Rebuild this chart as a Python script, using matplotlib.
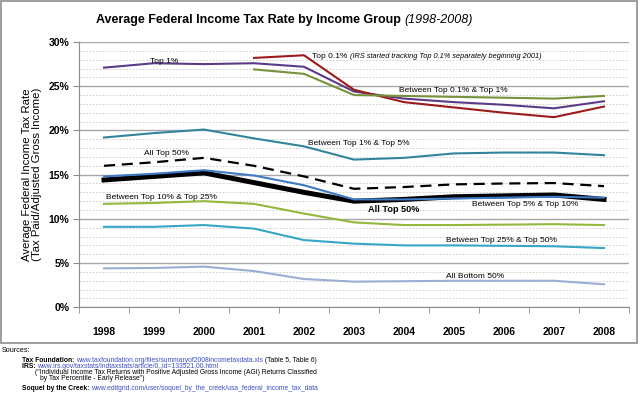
import numpy as np
import matplotlib.pyplot as plt
from matplotlib.patches import Rectangle
from matplotlib.ticker import MultipleLocator, FuncFormatter

plt.rcParams['font.family'] = ['Liberation Sans', 'DejaVu Sans']

years = [1998, 1999, 2000, 2001, 2002, 2003, 2004, 2005, 2006, 2007, 2008]

# average tax rate (%) per income group
top1 = [27.1, 27.6, 27.5, 27.6, 27.2, 24.4, 23.6, 23.2, 22.9, 22.5, 23.3]
top01 = [28.2, 28.5, 24.6, 23.2, 22.6, 22.0, 21.5, 22.7]  # from 2001
top01_1 = [26.9, 26.4, 24.0, 23.9, 23.8, 23.7, 23.6, 23.9]  # from 2001
top1_5 = [19.2, 19.7, 20.1, 19.1, 18.2, 16.7, 16.9, 17.4, 17.5, 17.5, 17.2]
top50_dash = [16.0, 16.4, 16.9, 16.0, 14.8, 13.4, 13.6, 13.9, 14.0, 14.05, 13.7]
top5_10 = [14.8, 15.1, 15.5, 14.9, 13.8, 12.2, 12.2, 12.3, 12.4, 12.5, 12.4]
top50_all = [14.4, 14.8, 15.2, 14.1, 13.0, 12.0, 12.2, 12.5, 12.6, 12.7, 12.2]
top10_25 = [11.7, 11.8, 12.0, 11.7, 10.6, 9.6, 9.3, 9.3, 9.35, 9.4, 9.3]
top25_50 = [9.1, 9.1, 9.3, 8.9, 7.6, 7.2, 7.0, 7.0, 6.95, 6.9, 6.7]
bottom50 = [4.4, 4.45, 4.6, 4.1, 3.2, 2.9, 2.95, 3.0, 3.0, 3.0, 2.6]

fig = plt.figure(figsize=(6.4, 3.93), dpi=100)
fig.patches.append(Rectangle((1/640, 50/393), 636/640, 342/393, transform=fig.transFigure,
                             fill=False, edgecolor='#8c8c8c', lw=1.2))
ax = fig.add_axes([79/640, 85.7/393, 550/640, 265.3/393])

x = np.arange(len(years))
x01 = x[3:]
ax.plot(x, top1, color='#5b3a86', lw=1.5)
ax.plot(x01, top01, color='#9b1b1b', lw=1.5)
ax.plot(x01, top01_1, color='#76923c', lw=1.5)
ax.plot(x, top1_5, color='#31849b', lw=1.5)
ax.plot(x, top50_dash, color='black', lw=1.6, dashes=(5, 3))
ax.plot(x, top50_all, color='black', lw=3.6)
ax.plot(x, top5_10, color='#3f7bc4', lw=1.5)
ax.plot(x, top10_25, color='#92b83c', lw=1.5)
ax.plot(x, top25_50, color='#35a7c4', lw=1.5)
ax.plot(x, bottom50, color='#9aaed4', lw=1.5)

ax.set_xlim(-0.5, len(years) - 0.5)
ax.set_ylim(0, 30)
ax.yaxis.set_major_locator(MultipleLocator(5))
ax.yaxis.set_minor_locator(MultipleLocator(1))
ax.yaxis.set_major_formatter(FuncFormatter(lambda v, p: f'{v:.0f}%'))
ax.grid(which='major', axis='y', color='#a6a6a6', lw=1.0)
ax.grid(which='minor', axis='y', color='#c8c8c8', lw=0.6, ls=(0, (2, 2)))
ax.set_axisbelow(True)
ax.set_xticks(x)
ax.set_xticklabels(years, fontsize=7.5, fontweight='bold')
ax.set_xticks(np.arange(len(years) + 1) - 0.5, minor=True)
ax.tick_params(axis='x', which='major', length=0, pad=14)
ax.tick_params(axis='x', which='minor', length=4, color='#8c8c8c', direction='out')
ax.tick_params(axis='y', which='major', length=4, color='#8c8c8c', labelsize=7.5, pad=3)
ax.tick_params(axis='y', which='minor', length=0)
for lbl in ax.get_yticklabels():
    lbl.set_fontweight('bold')
for s in ['top', 'right']:
    ax.spines[s].set_visible(False)
for s in ['left', 'bottom']:
    ax.spines[s].set_color('#8c8c8c')

ax.set_ylabel('Average Federal Income Tax Rate\n(Tax Paid/Adjusted Gross Income)',
              fontsize=8.2, linespacing=0.95, labelpad=5)

lf = 6.0
ax.text(1.2, 27.85, 'Top 1%', fontsize=lf, ha='center', va='center')
t = ax.text(4.16, 28.4, 'Top 0.1% ', fontsize=lf, va='center')
ax.annotate('(IRS started tracking Top 0.1% separately beginning 2001)', xy=(1, 0.5),
            xycoords=t, fontsize=5.3, style='italic', va='center')
ax.text(5.9, 24.5, 'Between Top 0.1% & Top 1%', fontsize=lf, va='center')
ax.text(4.08, 18.5, 'Between Top 1% & Top 5%', fontsize=lf, va='center')
ax.text(0.8, 17.4, 'All Top 50%', fontsize=lf, va='center')
ax.text(0.05, 12.4, 'Between Top 10% & Top 25%', fontsize=lf, va='center')
ax.text(5.28, 11.1, 'All Top 50%', fontsize=6.6, fontweight='bold', va='center')
ax.text(7.35, 11.6, 'Between Top 5% & Top 10%', fontsize=lf, va='center')
ax.text(6.85, 7.5, 'Between Top 25% & Top 50%', fontsize=lf, va='center')
ax.text(6.85, 3.5, 'All Bottom 50%', fontsize=lf, va='center')


def chain(parts, x0, y0):
    prev = None
    for txt, kw in parts:
        if prev is None:
            prev = fig.text(x0 / 640, 1 - y0 / 393, txt, va='center', **kw)
        else:
            a = plt.Annotation(txt, xy=(1, 0.5), xycoords=prev, va='center', **kw)
            fig.add_artist(a)
            prev = a


chain([('Average Federal Income Tax Rate by Income Group ', dict(fontsize=9.0, fontweight='bold')),
       ('(1998-2008)', dict(fontsize=9.0, style='italic'))], 96, 20)

link = '#3b4fc4'
sf = 4.9
norm = dict(fontsize=sf)
bold = dict(fontsize=sf, fontweight='bold')
blue = dict(fontsize=sf, color=link)
fig.text(2/640, 1 - 351/393, 'Sources:', fontsize=sf + 0.3, va='center')
chain([('Tax Foundation: ', bold),
       ('www.taxfoundation.org/files/summaryof2008incometaxdata.xls', blue),
       (' (Table 5, Table 6)', norm)], 22, 361)
chain([('IRS: ', bold),
       ('www.irs.gov/taxstats/indtaxstats/article/0,,id=133521,00.html', blue)], 22, 367)
fig.text(35/640, 1 - 373/393,
         '("Individual Income Tax Returns with Positive Adjusted Gross Income (AGI) Returns Classified',
         fontsize=sf, va='center')
fig.text(40/640, 1 - 379/393, 'by Tax Percentile - Early Release")', fontsize=sf, va='center')
chain([('Soquel by the Creek: ', bold),
       ('www.editgrid.com/user/soquel_by_the_creek/usa_federal_income_tax_data', blue)], 22, 388)

fig.savefig('out.png', dpi=100)
